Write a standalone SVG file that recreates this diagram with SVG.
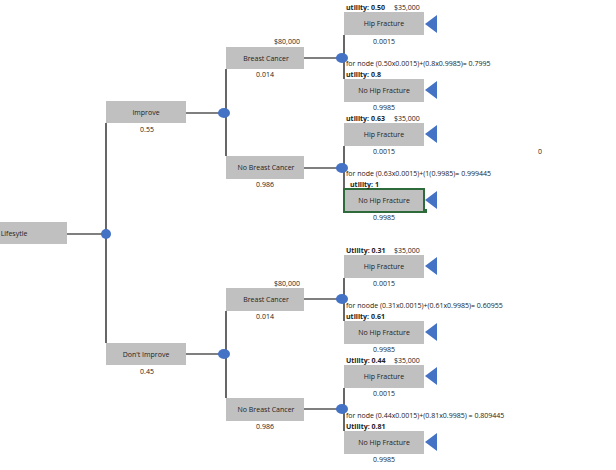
<svg xmlns="http://www.w3.org/2000/svg" width="616" height="470" viewBox="0 0 616 470">
<style>
.b{fill:#c0c0c0}
.t{font-family:"Open Sans","Liberation Sans",sans-serif;font-size:7px;fill:#222;text-anchor:middle}
.l{font-family:"Open Sans","Liberation Sans",sans-serif;font-size:7px;fill:#222}
.bd{font-weight:bold}
.c{fill:#4472c4}
line{stroke:#000;stroke-width:1.2}
</style>
<rect width="616" height="470" fill="#fff"/>
<g id="connectors">
<line x1="67" y1="234" x2="106" y2="234"/>
<line x1="106" y1="123" x2="106" y2="343"/>
<line x1="186" y1="113" x2="224" y2="113"/>
<line x1="186" y1="354" x2="224" y2="354"/>
<line x1="226" y1="69" x2="226" y2="156"/>
<line x1="226" y1="311" x2="226" y2="398"/>
<line x1="304" y1="58" x2="342" y2="58"/>
<line x1="304" y1="168" x2="342" y2="168"/>
<line x1="304" y1="299" x2="342" y2="299"/>
<line x1="304" y1="409" x2="342" y2="409"/>
<line x1="344" y1="35" x2="344" y2="79"/>
<line x1="344" y1="146" x2="344" y2="189"/>
<line x1="344" y1="278" x2="344" y2="321"/>
<line x1="344" y1="388" x2="344" y2="431"/>
</g>
<g id="chance">
<ellipse class="c" cx="106" cy="234" rx="5" ry="5"/>
<ellipse class="c" cx="224" cy="113" rx="6" ry="5"/>
<ellipse class="c" cx="224" cy="354" rx="6" ry="5"/>
<ellipse class="c" cx="342" cy="58" rx="6" ry="5"/>
<ellipse class="c" cx="342" cy="168" rx="6" ry="5"/>
<ellipse class="c" cx="342" cy="299" rx="6" ry="5"/>
<ellipse class="c" cx="342" cy="409" rx="6" ry="5"/>
</g>
<g id="lifestyle"><rect class="b" x="0" y="222" width="67" height="22"/><text class="t" x="14" y="236">Lifesytle</text></g>
<g id="improve"><rect class="b" x="106" y="101" width="80" height="22"/><text class="t" x="146" y="115">Improve</text><text class="t" x="147" y="132">0.55</text></g>
<g id="dontimprove"><rect class="b" x="106" y="343" width="80" height="22"/><text class="t" x="146" y="357">Don't Improve</text><text class="t" x="147" y="374">0.45</text></g>
<g id="bc1"><rect class="b" x="226" y="47" width="78" height="22"/><text class="t" x="266" y="61">Breast Cancer</text><text class="t" x="287" y="44">$80,000</text><text class="t" x="265" y="77">0.014</text></g>
<g id="nbc1"><rect class="b" x="226" y="156" width="78" height="23"/><text class="t" x="266" y="170">No Breast Cancer</text><text class="t" x="265" y="187">0.986</text></g>
<g id="bc2"><rect class="b" x="226" y="288" width="78" height="23"/><text class="t" x="266" y="302">Breast Cancer</text><text class="t" x="287" y="286">$80,000</text><text class="t" x="265" y="319">0.014</text></g>
<g id="nbc2"><rect class="b" x="226" y="398" width="78" height="23"/><text class="t" x="266" y="412">No Breast Cancer</text><text class="t" x="265" y="429">0.986</text></g>
<g id="leaf1"><rect class="b" x="344" y="12" width="80" height="23"/><text class="t" x="384" y="26">Hip Fracture</text><polygon class="c" points="425,24 437,15 437,33"/><text class="l bd" x="346" y="10">utility: 0.50</text><text class="l" x="394" y="10">$35,000</text><text class="t" x="384" y="44">0.0015</text></g>
<g id="leaf2"><rect class="b" x="344" y="79" width="80" height="23"/><text class="t" x="384" y="93">No Hip Fracture</text><polygon class="c" points="425,90 437,81 437,99"/><text class="l" x="346" y="66">for node (0.50x0.0015)+(0.8x0.9985)= 0.7995</text><text class="l bd" x="346" y="77">utility:  0.8</text><text class="t" x="384" y="110">0.9985</text></g>
<g id="leaf3"><rect class="b" x="344" y="123" width="80" height="23"/><text class="t" x="384" y="137">Hip Fracture</text><polygon class="c" points="425,134 437,125 437,143"/><text class="l bd" x="346" y="121">utility: 0.63</text><text class="l" x="394" y="121">$35,000</text><text class="t" x="384" y="154">0.0015</text></g>
<g id="leaf4"><rect class="b" x="344" y="189" width="80" height="23" stroke="#2e6b3a" stroke-width="2"/><rect x="423" y="209" width="4" height="4" fill="#2e6b3a"/><text class="t" x="384" y="203">No Hip Fracture</text><polygon class="c" points="425,200 437,191 437,209"/><text class="l" x="346" y="176">for node (0.63x0.0015)+(1(0.9985)= 0.999445</text><text class="l bd" x="350" y="187">utility: 1</text><text class="t" x="384" y="220">0.9985</text></g>
<text class="t" x="540" y="154">0</text>
<g id="leaf5"><rect class="b" x="344" y="255" width="80" height="23"/><text class="t" x="384" y="269">Hip Fracture</text><polygon class="c" points="425,266 437,257 437,275"/><text class="l bd" x="346" y="253">Utility: 0.31</text><text class="l" x="394" y="253">$35,000</text><text class="t" x="384" y="286">0.0015</text></g>
<g id="leaf6"><rect class="b" x="344" y="321" width="80" height="23"/><text class="t" x="384" y="335">No Hip Fracture</text><polygon class="c" points="425,332 437,323 437,341"/><text class="l" x="346" y="308">for noode (0.31x0.0015)+(0.61x0.9985)=  0.60955</text><text class="l bd" x="346" y="319">utility: 0.61</text><text class="t" x="384" y="352">0.9985</text></g>
<g id="leaf7"><rect class="b" x="344" y="365" width="80" height="23"/><text class="t" x="384" y="379">Hip Fracture</text><polygon class="c" points="425,376 437,367 437,385"/><text class="l bd" x="346" y="363">Utility: 0.44</text><text class="l" x="394" y="363">$35,000</text><text class="t" x="384" y="396">0.0015</text></g>
<g id="leaf8"><rect class="b" x="344" y="431" width="80" height="23"/><text class="t" x="384" y="445">No Hip Fracture</text><polygon class="c" points="425,442 437,433 437,451"/><text class="l" x="346" y="418">for node (0.44x0.0015)+(0.81x0.9985) = 0.809445</text><text class="l bd" x="346" y="429">Utility: 0.81</text><text class="t" x="384" y="462">0.9985</text></g>
</svg>
